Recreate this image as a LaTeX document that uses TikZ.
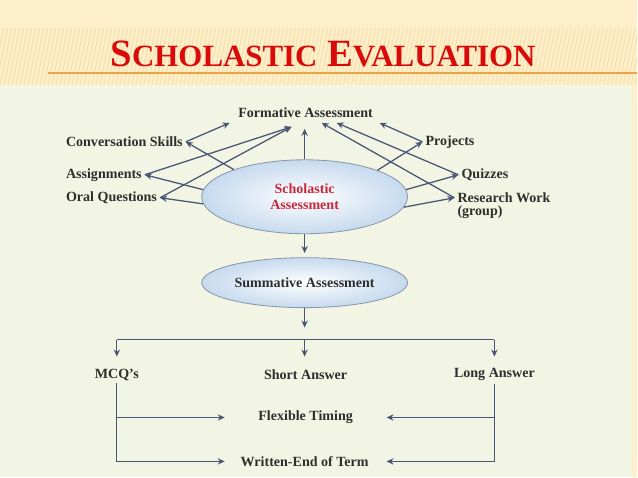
\documentclass[tikz,border=0pt]{standalone}
\usepackage{fontspec}
\setmainfont{Liberation Serif}
\usetikzlibrary{arrows.meta,shapes.geometric}
\definecolor{band}{HTML}{FDEFC9}
\definecolor{stripe}{HTML}{F6E0AC}
\definecolor{panel}{HTML}{F2F5E3}
\definecolor{rule}{HTML}{EBA448}
\definecolor{titlered}{HTML}{D90A0A}
\definecolor{ink}{HTML}{2E2E2E}
\definecolor{wire}{HTML}{4A5477}
\definecolor{rim}{HTML}{8A97AE}
\definecolor{bubblefill}{HTML}{C6DAEE}
\definecolor{schred}{HTML}{C8283A}
\tikzset{
  conn/.style={draw=wire, line width=0.9pt, -{Stealth[length=5pt,width=4.5pt]}},
  link/.style={draw=wire, line width=0.9pt},
  lab/.style={text=ink, font=\bfseries\fontsize{10}{12}\selectfont, inner sep=2pt},
  bubble/.style={ellipse, draw=rim, line width=0.6pt, inner color=white, outer color=bubblefill, inner sep=0pt, minimum width=5.15cm},
}

\begin{document}
\begin{tikzpicture}[x=0.025cm, y=-0.025cm]
  % slide background
  \fill[band] (0,0) rectangle (638,478);
  \begin{scope}
    \clip (0,28) rectangle (638,85);
    \foreach \i in {-20,-16,...,660}
      \draw[stripe, line width=0.7pt] (\i,85) -- ++(12,-57);
  \end{scope}
  \fill[panel] (0,85) rectangle (633,478);
  \draw[rule, line width=1.1pt] (48,73) -- (638,73);

  % title
  \node[text=titlered, anchor=base, inner sep=0pt] (title) at (323.5,67)
    {\bfseries\fontsize{27.5}{30}\selectfont S{\fontsize{22}{24}\selectfont CHOLASTIC} E{\fontsize{22}{24}\selectfont VALUATION}};

  % formative part
  \node[lab] (formative) at (306,113) {Formative Assessment};
  \node[bubble, minimum height=1.85cm, text=schred, align=center,
        font=\bfseries\fontsize{10}{11.5}\selectfont] (scholastic) at (305,197) {Scholastic\\Assessment};

  \node[lab, anchor=west] (convskills) at (63,142) {Conversation Skills};
  \node[lab, anchor=west] (assign) at (63,175) {Assignments};
  \node[lab, anchor=west] (oralq) at (63,198) {Oral Questions};
  \node[lab, anchor=west] (projects) at (423,142) {Projects};
  \node[lab, anchor=west] (quizzes) at (459,175) {Quizzes};
  \node[lab, anchor=west] (research) at (455,198) {Research Work};
  \node[lab, anchor=north west, inner ysep=0pt] (group) at (research.south west) {(group)};

  \coordinate (fconv) at (230,123);
  \coordinate (fleft) at (292,127);
  \coordinate (fup) at (305,129);
  \coordinate (fres) at (322,123);
  \coordinate (fquiz) at (337,123);
  \coordinate (fproj) at (380,123);

  % ellipse to activities
  \draw[conn] (scholastic.159) -- (convskills.east);
  \draw[conn] (scholastic.176) -- (assign.east);
  \draw[conn] (scholastic.184) -- (oralq.east);
  \draw[conn] (scholastic.20) -- (projects.west);
  \draw[conn] (scholastic.4) -- (quizzes.west);
  \draw[conn] (scholastic.-6) -- (research.west);

  % activities to formative
  \draw[conn] (convskills.east) -- (fconv);
  \draw[conn] (assign.east) -- (fleft);
  \draw[conn] (oralq.east) -- (fleft);
  \draw[conn] (projects.west) -- (fproj);
  \draw[conn] (quizzes.west) -- (fquiz);
  \draw[conn] (research.west) -- (fres);
  \draw[conn] (scholastic.north) -- (fup);

  % summative part
  \node[bubble, minimum height=1.25cm, text=ink,
        font=\bfseries\fontsize{10}{12}\selectfont] (summative) at (305,283) {Summative Assessment};
  \draw[conn, shorten >=3pt] (scholastic.south) -- (summative.north);

  \coordinate (busdrop) at (305,328);
  \coordinate (bus) at (305,340);
  \coordinate (droptip) at (305,357);
  \draw[conn] (summative.south) -- (busdrop);

  \node[lab] (mcq) at (117,375) {MCQ's};
  \node[lab] (shortans) at (306,375) {Short Answer};
  \node[lab] (longans) at (495,375) {Long Answer};
  \node[lab] (flexible) at (306,418) {Flexible Timing};
  \node[lab] (written) at (305,462) {Written-End of Term};

  \draw[link] (mcq.north |- bus) -- (longans.north |- bus);
  \draw[conn] (mcq.north |- bus) -- (mcq.north |- droptip);
  \draw[conn] (bus) -- (droptip);
  \draw[conn] (longans.north |- bus) -- (longans.north |- droptip);

  \coordinate (flexl) at (225,418);
  \coordinate (flexr) at (387,418);
  \coordinate (writl) at (225,462);
  \coordinate (writr) at (387,462);
  \draw[conn] (mcq.south) |- (flexl);
  \draw[conn] (mcq.south) |- (writl);
  \draw[conn] (longans.south) |- (flexr);
  \draw[conn] (longans.south) |- (writr);
\end{tikzpicture}
\end{document}
